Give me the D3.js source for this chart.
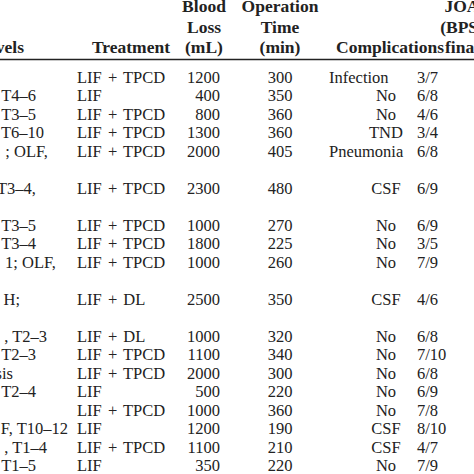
<!DOCTYPE html>
<html>
<head>
<meta charset="utf-8">
<script src="https://cdn.jsdelivr.net/npm/d3@7"></script>
<style>
  body { margin: 0; background: #fff; }
  svg, svg text { font-family: "Liberation Serif", "Tinos", "Times New Roman", "DejaVu Serif", serif; }
</style>
</head>
<body>
<div id="chart"></div>
<script>
const levels = ["T4–6", "T3–5", "T6–10", "; OLF,", "T3–4,", "T3–5", "T3–4", "1; OLF,", "H;", ", T2–3", "T2–3", "sis", "T2–4", "", "F, T10–12", ", T1–4", "T1–5"];
const levelsFirst = ""; // first row level text is off-screen
const treatment = ["LIF + TPCD", "LIF", "LIF + TPCD", "LIF + TPCD", "LIF + TPCD", "LIF + TPCD", "LIF + TPCD", "LIF + TPCD", "LIF + TPCD", "LIF + DL", "LIF + DL", "LIF + TPCD", "LIF + TPCD", "LIF", "LIF + TPCD", "LIF", "LIF + TPCD", "LIF"];
const bloodLoss = [1200, 400, 800, 1300, 2000, 2300, 1000, 1800, 1000, 2500, 1000, 1100, 2000, 500, 1000, 1200, 1100, 350];
const opTime = [300, 350, 360, 360, 405, 480, 270, 225, 260, 350, 320, 340, 300, 220, 360, 190, 210, 220];
const complications = ["Infection", "No", "No", "TND", "Pneumonia", "CSF", "No", "No", "No", "CSF", "No", "No", "No", "No", "No", "CSF", "CSF", "No"];
const joa = ["3/7", "6/8", "4/6", "3/4", "6/8", "6/9", "6/9", "3/5", "7/9", "4/6", "6/8", "7/10", "6/8", "6/9", "7/8", "8/10", "4/7", "7/9"];
const rowLines = [1, 1, 1, 1, 2, 2, 1, 1, 2, 2, 1, 1, 1, 1, 1, 1, 1, 1];

const width = 474, height = 474;
const svg = d3.select("#chart").append("svg")
  .attr("width", width).attr("height", height)
  .attr("font-family", "Liberation Serif, DejaVu Serif, serif");

// line index -> y centre
const lineStart = [];
rowLines.reduce((acc, n, i) => { lineStart[i] = acc; return acc + n; }, 0);
const y = d3.scaleLinear().domain([0, 1]).range([77, 95.5]);

const allLevels = [levelsFirst].concat(levels);
const rows = treatment.map((t, i) => ({
  level: allLevels[i], treatment: t, blood: bloodLoss[i], time: opTime[i],
  comp: complications[i], joa: joa[i], y: y(lineStart[i])
}));

// header
const head = svg.append("g").attr("font-weight", "bold").attr("font-size", 17.5).attr("fill", "#222");
const hdr = [
  {x: 24, a: "end", lines: ["vels"]},
  {x: 131, a: "middle", lines: ["Treatment"]},
  {x: 204, a: "middle", lines: ["Blood", "Loss", "(mL)"]},
  {x: 280, a: "middle", lines: ["Operation", "Time", "(min)"]},
  {x: 390, a: "middle", lines: ["Complications"]},
  {x: 462, a: "middle", lines: ["JOA", "(BPS)", "final"]}
];
hdr.forEach(h => {
  const n = h.lines.length;
  h.lines.forEach((s, k) => {
    head.append("text").attr("x", h.x).attr("y", 53 - (n - 1 - k) * 20.5)
      .attr("text-anchor", h.a).text(s);
  });
});
svg.append("line").attr("x1", 0).attr("x2", width).attr("y1", 59.5).attr("y2", 59.5)
  .attr("stroke", "#222").attr("stroke-width", 1.5);

const levelEnd = {"; OLF,": 48, "1; OLF,": 56, "T6–10": 44, "H;": 20, ", T2–3": 47, ", T1–4": 47, "sis": 13, "F, T10–12": 68};
const body = svg.append("g").attr("font-size", 16.5).attr("fill", "#222");
const row = body.selectAll("g.row").data(rows).enter().append("g")
  .attr("class", "row").attr("transform", d => `translate(0,${d.y + 5.5})`);

row.append("text").attr("text-anchor", "end")
  .attr("x", d => levelEnd[d.level] || 36).text(d => d.level);
row.append("text").attr("x", 77).attr("word-spacing", 2).text(d => d.treatment);
row.append("text").attr("x", 220).attr("text-anchor", "end").text(d => d.blood);
row.append("text").attr("x", 280).attr("text-anchor", "middle").text(d => d.time);
row.append("text")
  .attr("x", d => d.comp.length > 5 ? 329 : 386)
  .attr("text-anchor", d => d.comp.length > 5 ? "start" : "middle")
  .text(d => d.comp);
row.append("text").attr("x", 417).text(d => d.joa);
</script>
</body>
</html>
